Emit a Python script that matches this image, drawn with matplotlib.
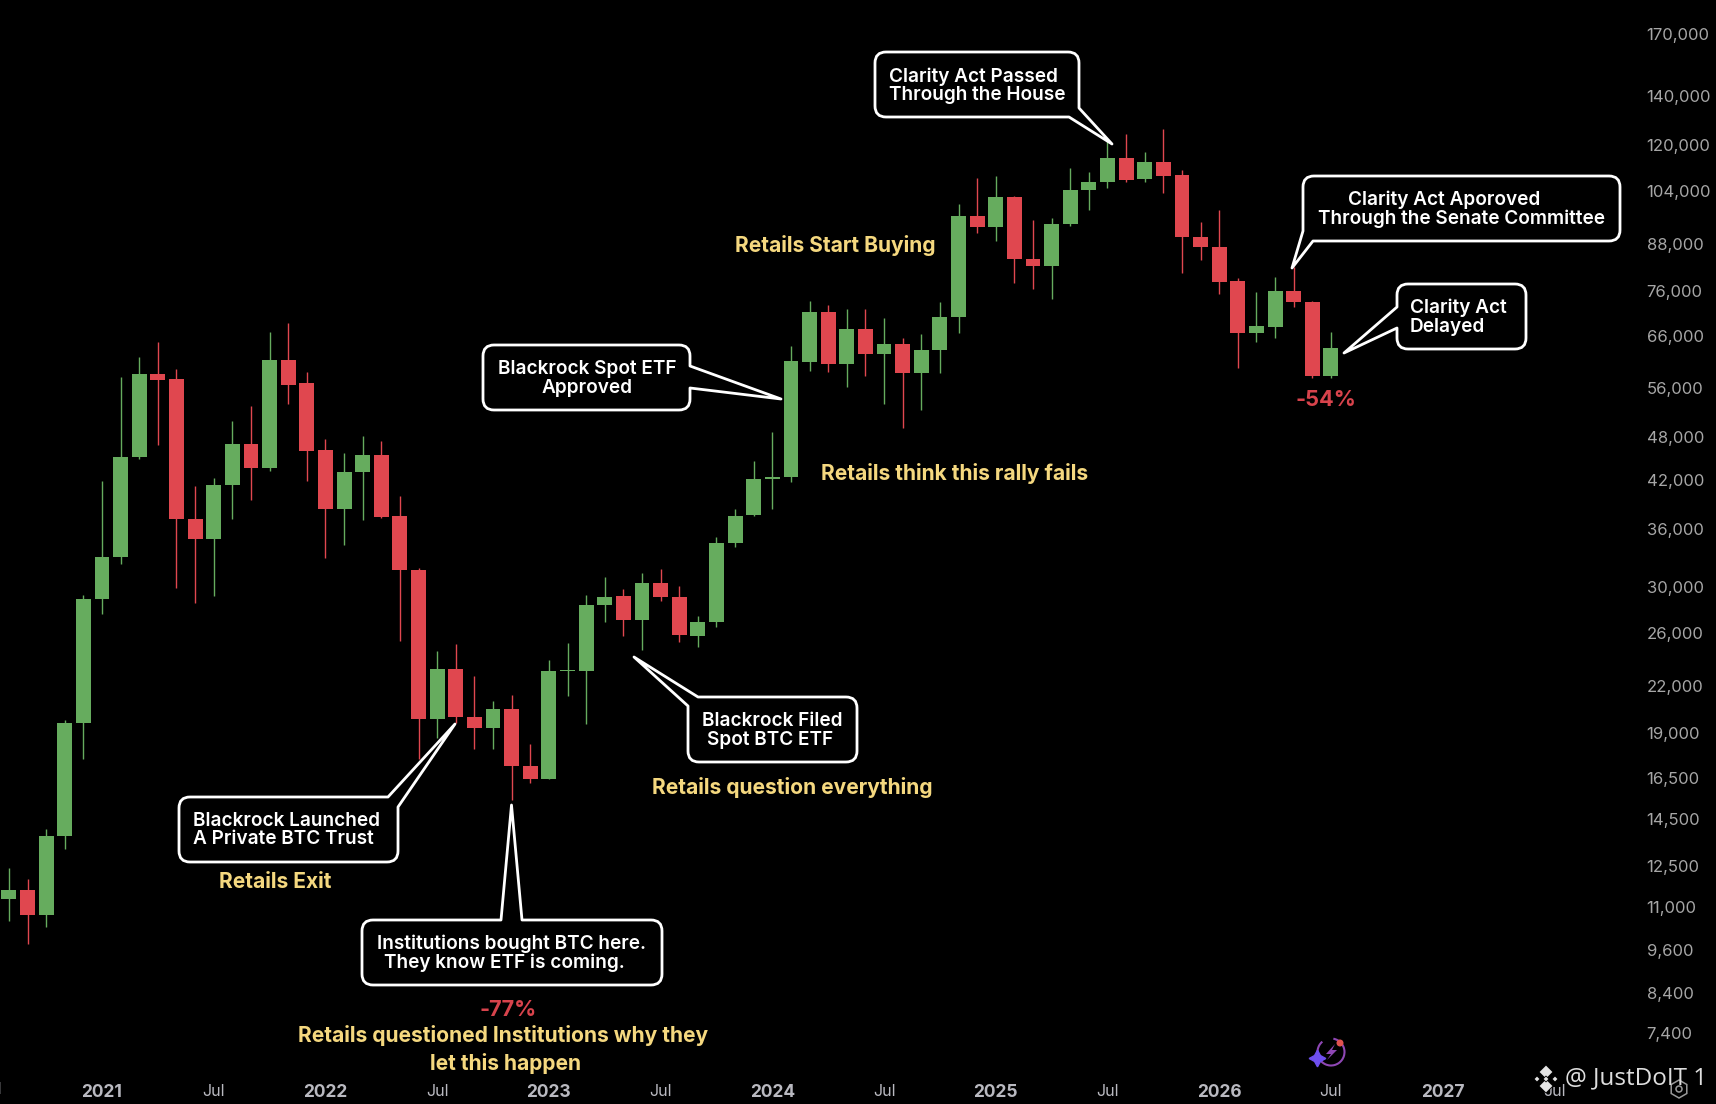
import numpy as np
import matplotlib
matplotlib.use("Agg")
import matplotlib.pyplot as plt
from matplotlib.patches import PathPatch, Circle, Arc, Polygon, RegularPolygon
from matplotlib.path import Path
from matplotlib.ticker import NullLocator
from matplotlib.transforms import Affine2D

# ─── data: monthly candles, Aug 2020 to Jul 2026 ────────────────────────────

OPEN = [11290, 11610, 10740, 13750, 19610, 28870, 32990, 45110, 58500, 57560,
        37190, 34910, 41340, 46930, 43640, 61180, 56900, 46080, 38290, 43010,
        45400, 37450, 31620, 19850, 23190, 19950, 19300, 20430, 17090, 16450,
        23030, 23060, 28320, 29150, 27080, 30360, 29050, 25750, 26840, 34450,
        37560, 42100, 42330, 60800, 71040, 60320, 67320, 62380, 64300, 58720,
        63090, 70000, 96050, 92890, 102050, 84000, 82110, 93780, 104100, 106700,
        115340, 107750, 113660, 109230, 89930, 87170, 78340, 66620, 67900, 75990,
        73340, 58210]
HIGH = [12420, 12000, 14030, 19760, 29220, 41830, 58040, 61670, 64670, 59360,
        41170, 42220, 50460, 52850, 66760, 68720, 58880, 47740, 45700, 48120,
        47360, 39890, 31830, 24580, 25100, 22700, 20970, 21390, 18310, 23870,
        25170, 29290, 30970, 29780, 31320, 31780, 30120, 27380, 35080, 38280,
        44480, 48810, 63800, 73550, 72570, 71760, 71760, 69780, 65460, 66350,
        73300, 99620, 108110, 108890, 102300, 94850, 95350, 111550, 110150, 121900,
        124230, 117530, 126070, 110960, 94370, 97880, 78990, 75770, 79400, 81950,
        73600, 66690]
LOW = [10530, 9790, 10320, 13180, 17510, 27600, 32210, 44800, 46860, 29950,
       28530, 29170, 37190, 39370, 43180, 53190, 41830, 32810, 34230, 37050,
       37300, 25330, 17510, 18700, 19590, 18070, 18070, 15400, 16230, 16440,
       21300, 19510, 26840, 25690, 24620, 28700, 25230, 24840, 26450, 33990,
       37500, 38320, 41680, 58980, 58790, 56210, 58200, 53330, 49470, 52270,
       58660, 66480, 90970, 88910, 77920, 76400, 74040, 93080, 97880, 104770,
       106970, 106970, 103130, 80250, 83680, 75130, 59690, 64770, 65440, 72120,
       57840, 57730]
CLOSE = [11610, 10740, 13750, 19610, 28870, 32990, 45110, 58500, 57500, 37190,
         34820, 41340, 46990, 43640, 61180, 56610, 46010, 38290, 43010, 45400,
         37400, 31620, 19820, 23220, 19980, 19300, 20430, 17090, 16450, 23030,
         23130, 28380, 29050, 27080, 30360, 29050, 25800, 26840, 34450, 37470,
         42050, 42380, 60930, 71040, 60320, 67320, 62380, 64300, 58720, 63090,
         70020, 96050, 92890, 102050, 84020, 82110, 93780, 104210, 106750, 115340,
         107650, 113660, 109000, 89930, 87070, 78170, 66620, 67960, 75990, 73270,
         58210, 63420]

PRICE_TICKS = [170000, 140000, 120000, 104000, 88000, 76000, 66000, 56000, 48000,
               42000, 36000, 30000, 26000, 22000, 19000, 16500, 14500, 12500,
               11000, 9600, 8400, 7400]
TIME_TICKS = [5, 11, 17, 23, 29, 35, 41, 47, 53, 59, 65, 71, 77, 83]
TIME_LABELS = ["2021", "Jul", "2022", "Jul", "2023", "Jul", "2024", "Jul",
               "2025", "Jul", "2026", "Jul", "2027", "Jul"]

# ─── annotation text ────────────────────────────────────────────────────────

YELLOW_NOTES = [
    ("Retails Start Buying", 835, 245),
    ("Retails think this rally fails", 955, 473),
    ("Retails question everything", 792, 788),
    ("Retails Exit", 275, 882),
    ("Retails questioned Institutions why they", 503, 1036),
    ("let this happen", 505, 1063),
]
RED_NOTES = [("-77%", 508, 1010), ("-54%", 1326, 400)]

# ─── styling ────────────────────────────────────────────────────────────────

W, H = 1716, 1104
GREEN = "#66AC5E"
RED = "#E0474F"
YELLOW = "#F5D87F"
PCT_RED = "#D8434C"
TICK_GREY = "#A6A6A6"
AXIS_GREY = "#B9B9C0"
FONT = "Inter"
R = 11   # callout corner radius

# callout outlines in image pixels: (x, y, corner radius), 0 = sharp
CALLOUTS = [
    [(875, 52, R), (1079, 52, R), (1079, 108, 0), (1112, 144, 0), (1069, 117, 0), (875, 117, R)],
    [(1303, 176, R), (1620, 176, R), (1620, 241, R), (1313, 241, 0), (1292, 268, 0), (1303, 231, 0)],
    [(1397, 284, R), (1526, 284, R), (1526, 349, R), (1397, 349, R), (1397, 328, 0), (1344, 353, 0), (1397, 307, 0)],
    [(483, 345, R), (690, 345, R), (690, 366, 0), (781, 399, 0), (690, 388, 0), (690, 410, R), (483, 410, R)],
    [(634, 657, 0), (698, 697, 0), (857, 697, R), (857, 762, R), (688, 762, R), (688, 706, 0)],
    [(179, 797, R), (388, 797, 0), (455, 724, 0), (398, 807, 0), (398, 862, R), (179, 862, R)],
    [(362, 920, R), (501, 920, 0), (511.5, 805, 0), (522, 920, 0), (662, 920, R), (662, 985, R), (362, 985, R)],
]
CALLOUT_LINES = [
    ("Clarity Act Passed", 889, 76.5, "left"),
    ("Through the House", 889, 95.5, "left"),
    ("Clarity Act Aporoved", 1444.5, 200, "center"),
    ("Through the Senate Committee", 1461, 219, "center"),
    ("Clarity Act", 1410, 308, "left"),
    ("Delayed", 1410, 327, "left"),
    ("Blackrock Spot ETF", 587, 369, "center"),
    ("Approved", 587, 388, "center"),
    ("Blackrock Filed", 772, 721, "center"),
    ("Spot BTC ETF", 770, 740, "center"),
    ("Blackrock Launched", 193, 820.5, "left"),
    ("A Private BTC Trust", 193, 839.5, "left"),
    ("Institutions bought BTC here.", 511.5, 944, "center"),
    ("They know ETF is coming.", 504, 963, "center"),
]


def outline_path(points):
    """Closed polygon path, with the corners that have a radius rounded off."""
    verts, codes = [], []
    n = len(points)
    for i, (x, y, r) in enumerate(points):
        p = np.array([x, y], dtype=float)
        if r == 0:
            verts.append(p)
            codes.append(Path.LINETO)
            continue
        prev_p = np.array(points[i - 1][:2], dtype=float)
        next_p = np.array(points[(i + 1) % n][:2], dtype=float)
        a = p + r * (prev_p - p) / np.linalg.norm(prev_p - p)
        b = p + r * (next_p - p) / np.linalg.norm(next_p - p)
        verts += [a, p, b]
        codes += [Path.LINETO, Path.CURVE3, Path.CURVE3]
    codes[0] = Path.MOVETO
    verts.append(verts[0])
    codes.append(Path.CLOSEPOLY)
    return Path(verts, codes)


fig = plt.figure(figsize=(W / 100, H / 100), dpi=100, facecolor="black")
ax = fig.add_axes([0, 0, 1, 1], facecolor="black")
ax.set_yscale("log")
for spine in ax.spines.values():
    spine.set_visible(False)

# image pixels, origin top left
px = Affine2D().scale(1, -1).translate(0, H)

# ─── candles ────────────────────────────────────────────────────────────────

idx = np.arange(len(OPEN))
o, h, l, c = map(np.array, (OPEN, HIGH, LOW, CLOSE))
colors = [GREEN if up else RED for up in c >= o]
ax.vlines(idx, l, h, colors=colors, linewidth=1.0, zorder=2)
ax.bar(idx, np.maximum(np.abs(c - o), 1), bottom=np.minimum(o, c), width=0.8,
       color=colors, linewidth=0, zorder=3)

# x runs from pixel 0 to 1716 at 18.62 px per month, y is 318.8 px per ln unit
ax.set_xlim(-0.478, 91.68)
ax.set_ylim(5928, 189100)

# ─── axes (labels sit inside the picture) ───────────────────────────────────

ax.yaxis.tick_right()
ax.set_yticks(PRICE_TICKS)
ax.set_yticklabels([f"{v:,}" for v in PRICE_TICKS], fontfamily=FONT, fontsize=12, color=TICK_GREY)
ax.yaxis.set_minor_locator(NullLocator())
ax.tick_params(axis="y", which="both", length=0, pad=-69.5 * 0.72)

ax.set_xticks(TIME_TICKS)
ax.set_xticklabels(TIME_LABELS, fontfamily=FONT, fontsize=11.5, color=AXIS_GREY)
ax.tick_params(axis="x", length=0, pad=-20 * 0.72)
for lab in ax.get_xticklabels():
    if lab.get_text() != "Jul":
        lab.set_fontweight("bold")
        lab.set_fontsize(12.5)
# the Jul before the first candle is cut by the left edge, as in the screenshot
ax.text(-9.7, 1089, "Jul", transform=px, ha="center", va="center", fontfamily=FONT,
        fontsize=11.5, color=AXIS_GREY, clip_on=False)

# ─── callouts ───────────────────────────────────────────────────────────────

for points in CALLOUTS:
    ax.add_patch(PathPatch(outline_path(points), transform=px, facecolor="black",
                           edgecolor="white", linewidth=2.0, joinstyle="round", zorder=5))
for text, x, y, ha in CALLOUT_LINES:
    ax.text(x, y, text, transform=px, ha=ha, va="center", color="white", fontfamily=FONT,
            fontweight="semibold", fontsize=13.7, zorder=6)

for text, x, y in YELLOW_NOTES:
    ax.text(x, y, text, transform=px, ha="center", va="center", color=YELLOW, fontfamily=FONT,
            fontweight="bold", fontsize=15.1, zorder=6)
for text, x, y in RED_NOTES:
    ax.text(x, y, text, transform=px, ha="center", va="center", color=PCT_RED, fontfamily=FONT,
            fontweight="bold", fontsize=15.6, zorder=6)

# ─── small icons and watermark ──────────────────────────────────────────────

ax.add_patch(Arc((1331, 1052), 27, 27, transform=px, theta1=-80, theta2=230, color="#8E47B4", linewidth=1.5, zorder=6))
ax.add_patch(Polygon([(1335, 1044), (1326, 1054), (1331, 1054), (1327, 1060), (1337, 1050), (1332, 1050)],
                     transform=px, facecolor="#8E47B4", edgecolor="none", zorder=6))
ax.add_patch(Circle((1340, 1043), 3.5, transform=px, facecolor="#E0524F", edgecolor="none", zorder=7))
ax.plot([1316.5], [1058], transform=px, marker=(4, 1, 0), markersize=12, color="#6E4FEF", zorder=7)

for cx, cy, s in [(1546, 1072, 7), (1546, 1086, 7), (1537, 1079, 3), (1555, 1079, 3), (1546, 1079, 3)]:
    ax.add_patch(Polygon([(cx, cy - s), (cx + s, cy), (cx, cy + s), (cx - s, cy)], transform=px,
                         facecolor="#E4E4E4", edgecolor="black", linewidth=0.6, zorder=7))
ax.add_patch(RegularPolygon((1679, 1089), 6, radius=9, transform=px, facecolor="none",
                            edgecolor="#9A9A9A", linewidth=1.1, zorder=6))
ax.add_patch(Circle((1679, 1089), 3, transform=px, facecolor="none", edgecolor="#9A9A9A", linewidth=1.1, zorder=6))
ax.text(1565, 1078, "@ JustDoIT 1", transform=px, ha="left", va="center", color="#DEDEDE",
        fontfamily="Open Sans", fontsize=17.5, zorder=8)

fig.savefig("out.png", dpi=100, facecolor="black")
